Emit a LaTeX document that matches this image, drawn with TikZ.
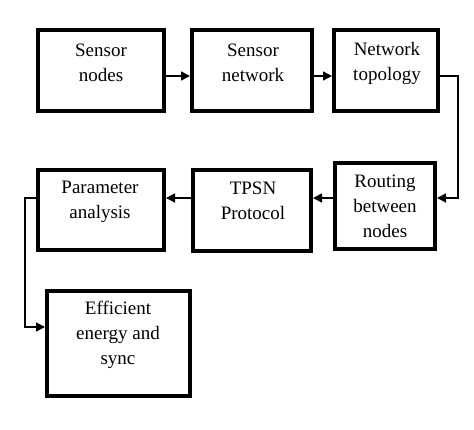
\documentclass[tikz,border=0pt]{standalone}
\usepackage{fontspec}
\setmainfont{Liberation Serif}
\usetikzlibrary{arrows.meta}
\begin{document}
\begin{tikzpicture}[x=1pt,y=-1pt,
  box/.style={draw=black,line width=4pt,fill=white,inner sep=0pt},
  txt/.style={align=center,inner sep=0pt,font=\fontsize{19}{25}\selectfont},
  arr/.style={line width=1.5pt,-{Triangle[length=9pt,width=9pt]}},
  ln/.style={line width=1.5pt}]
\useasboundingbox (0,0) rectangle (474,430);
\node[box,minimum width=126pt,minimum height=81pt] (b1) at (101,70.5) {};
\node[box,minimum width=120pt,minimum height=81pt] (b2) at (252,70.5) {};
\node[box,minimum width=104pt,minimum height=81pt] (b3) at (386,70.5) {};
\node[box,minimum width=100pt,minimum height=86pt] (b4) at (385,206) {};
\node[box,minimum width=118pt,minimum height=81pt] (b5) at (252,210.5) {};
\node[box,minimum width=126pt,minimum height=80pt] (b6) at (101,210) {};
\node[box,minimum width=143pt,minimum height=105pt] (b7) at (118.5,343.5) {};
\node[txt] (t1) at (101,63) {Sensor\\nodes};
\node[txt] (t2) at (253,63) {Sensor\\network};
\node[txt] (t3) at (387,63) {Network\\topology};
\node[txt] (t4) at (385,206) {Routing\\between\\nodes};
\node[txt] (t5) at (253,201) {TPSN\\Protocol};
\node[txt] (t6) at (100,201.5) {Parameter\\analysis};
\node[txt] (t7) at (118,335) {Efficient\\energy and\\sync};
\coordinate (c1) at (458,76);
\coordinate (c2) at (458,198);
\coordinate (c3) at (25,198);
\coordinate (c4) at (25,327);
\draw[arr] ([yshift=-5.5pt]b1.east) -- ([yshift=-5.5pt]b2.west);
\draw[arr] ([yshift=-5.5pt]b2.east) -- ([yshift=-5.5pt]b3.west);
\draw[arr] ([yshift=-5.5pt]b3.east) -- (c1) -- (c2) -- ([yshift=8pt]b4.east);
\draw[arr] ([yshift=8pt]b4.west) -- ([yshift=12.5pt]b5.east);
\draw[arr] ([yshift=12.5pt]b5.west) -- ([yshift=12pt]b6.east);
\draw[arr] ([yshift=12pt]b6.west) -- (c3) -- (c4) -- ([yshift=16.5pt]b7.west);
\end{tikzpicture}
\end{document}
